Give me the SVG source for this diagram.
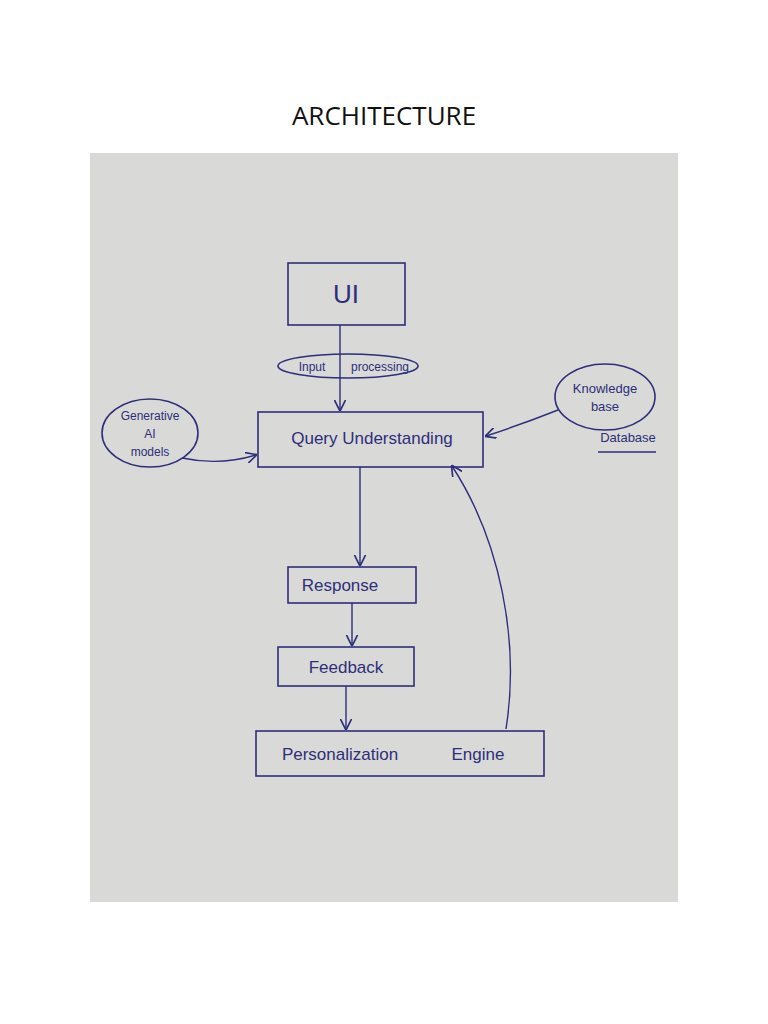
<svg xmlns="http://www.w3.org/2000/svg" width="768" height="1024" viewBox="0 0 768 1024">
<defs>
<marker id="ah" viewBox="0 0 10 10" refX="9" refY="5" markerWidth="8" markerHeight="8" orient="auto-start-reverse"><path d="M0,0 L10,5 L0,10" fill="none" stroke="#2d2f7a" stroke-width="1.5"/></marker>
</defs>
<style>
.b{fill:none;stroke:#2d2f7a;stroke-width:1.6}
.t{font-family:"Liberation Sans",sans-serif;fill:#2d2f7a}
.c{stroke:#2d2f7a;stroke-width:1.4;fill:none}
</style>
<rect width="768" height="1024" fill="#ffffff"/>
<text x="384" y="125" text-anchor="middle" font-family="Open Sans, sans-serif" font-size="26" fill="#111">ARCHITECTURE</text>
<rect x="90" y="153" width="588" height="749" fill="#d9d9d7"/>
<g id="ui"><rect class="b" x="288" y="263" width="117" height="62"/><text class="t" x="346" y="303" text-anchor="middle" font-size="26">UI</text></g>
<g id="input"><ellipse class="b" cx="348" cy="366" rx="70" ry="12"/><text class="t" x="312" y="371" text-anchor="middle" font-size="12">Input</text><text class="t" x="380" y="371" text-anchor="middle" font-size="12">processing</text></g>
<g id="query"><rect class="b" x="258" y="412" width="225" height="55"/><text class="t" x="372" y="444" text-anchor="middle" font-size="17">Query Understanding</text></g>
<g id="genai"><ellipse class="b" cx="150" cy="433" rx="48" ry="34"/><text class="t" x="150" y="420" text-anchor="middle" font-size="12">Generative</text><text class="t" x="150" y="438" text-anchor="middle" font-size="12">AI</text><text class="t" x="150" y="456" text-anchor="middle" font-size="12">models</text></g>
<g id="kb"><ellipse class="b" cx="605" cy="397" rx="50" ry="33"/><text class="t" x="605" y="393" text-anchor="middle" font-size="13">Knowledge</text><text class="t" x="605" y="411" text-anchor="middle" font-size="13">base</text></g>
<g id="db"><text class="t" x="628" y="442" text-anchor="middle" font-size="13">Database</text><line class="c" x1="598" y1="452" x2="656" y2="452"/></g>
<g id="response"><rect class="b" x="288" y="567" width="128" height="36"/><text class="t" x="340" y="591" text-anchor="middle" font-size="17">Response</text></g>
<g id="feedback"><rect class="b" x="278" y="647" width="136" height="39"/><text class="t" x="346" y="673" text-anchor="middle" font-size="17">Feedback</text></g>
<g id="pe"><rect class="b" x="256" y="731" width="288" height="45"/><text class="t" x="340" y="760" text-anchor="middle" font-size="17">Personalization</text><text class="t" x="478" y="760" text-anchor="middle" font-size="17">Engine</text></g>
<g id="connectors">
<line class="c" x1="340" y1="325" x2="340" y2="410" marker-end="url(#ah)"/>
<path class="c" d="M182,458 Q220,466 256,455" marker-end="url(#ah)"/>
<path class="c" d="M558,410 Q520,425 486,436" marker-end="url(#ah)"/>
<line class="c" x1="360" y1="467" x2="360" y2="565" marker-end="url(#ah)"/>
<line class="c" x1="352" y1="603" x2="352" y2="645" marker-end="url(#ah)"/>
<line class="c" x1="346" y1="686" x2="346" y2="729" marker-end="url(#ah)"/>
<path class="c" d="M506,729 C520,640 500,540 452,466" marker-end="url(#ah)"/>
</g>
</svg>
